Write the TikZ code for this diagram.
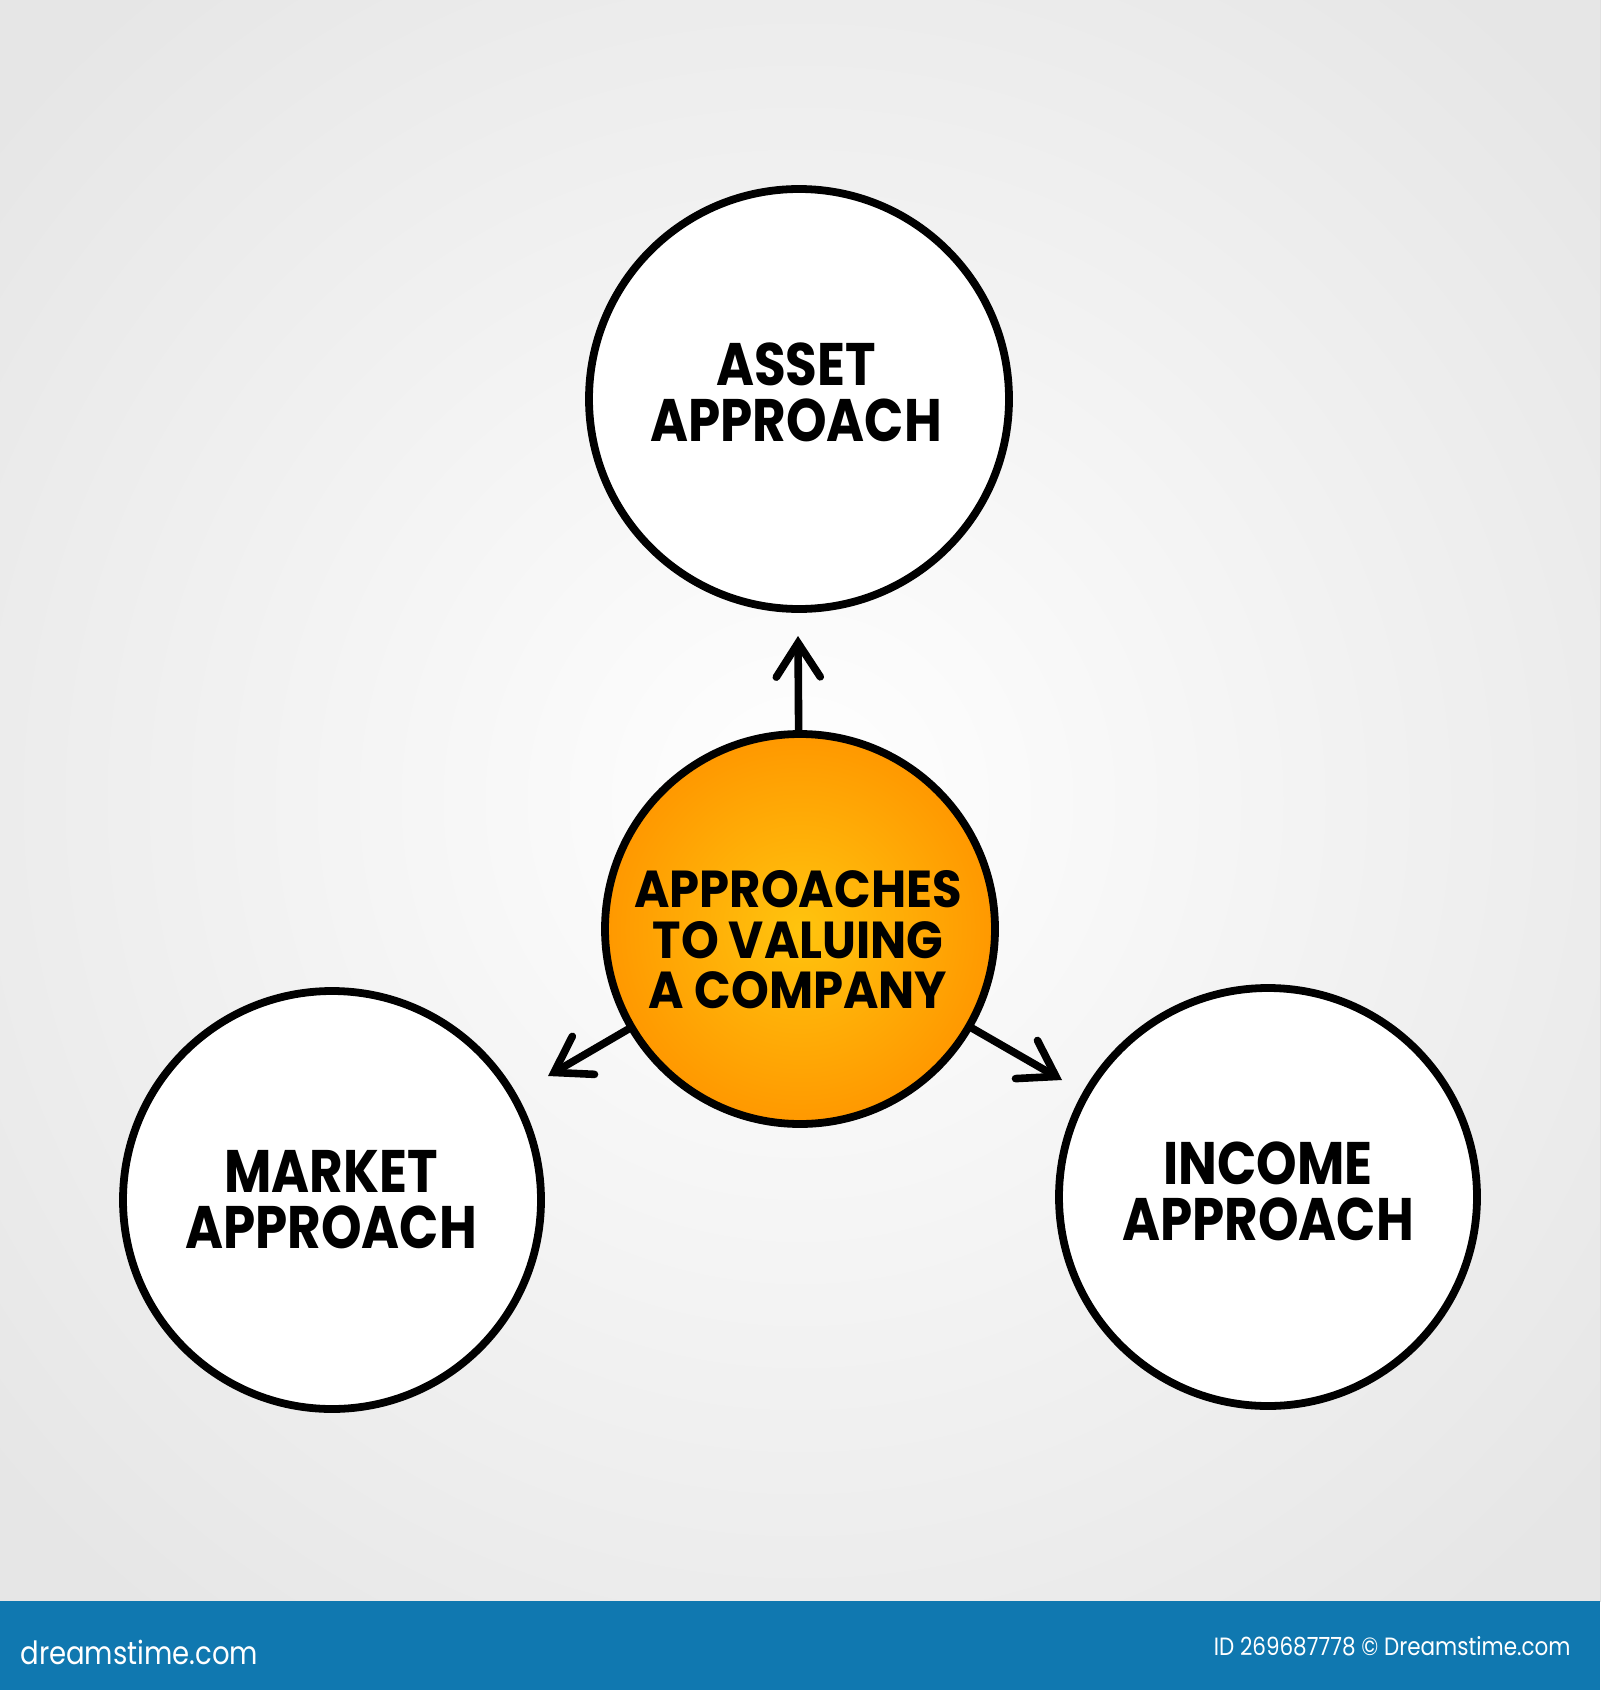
\documentclass[tikz,border=0pt]{standalone}
\usepackage{fontspec}
\setmainfont{Poppins}[FakeStretch=0.86]
\newfontfamily\hubfont{Poppins}[FakeStretch=0.925]
\usetikzlibrary{arrows.meta}
\definecolor{barblue}{RGB}{16,120,176}
\definecolor{bgedge}{RGB}{230,230,230}
\definecolor{orin}{RGB}{255,196,14}
\definecolor{orout}{RGB}{255,152,0}
\tikzset{
  bubble/.style={circle, draw=black, line width=3.9pt, fill=white, inner sep=0pt},
  hub/.style={bubble, inner color=orin, outer color=orout},
  lbl/.style={align=center, inner sep=0pt, font=\fontsize{30}{28}\selectfont\bfseries},
  hublbl/.style={align=center, inner sep=0pt, font=\hubfont\fontsize{26}{25.3}\selectfont\bfseries},
  arr/.style={line width=3.8pt, line cap=round, line join=round,
    -{Straight Barb[length=17pt, width=22pt, line cap=round]}},
  bartext/.style={text=white, inner sep=0pt}
}
\begin{document}
\begin{tikzpicture}[x=0.5pt, y=-0.5pt]
  \useasboundingbox (0,0) rectangle (1600,1690);
  % background
  \begin{scope}
    \clip (0,0) rectangle (1600,1601);
    \fill[inner color=white, outer color=bgedge] (-250,-250) rectangle (1850,1851);
  \end{scope}
  \fill[barblue] (0,1601) rectangle (1600,1690);
  % circles
  \node[bubble, minimum size=210pt] (asset) at (799,399) {};
  \node[bubble, minimum size=209pt] (market) at (332,1200) {};
  \node[bubble, minimum size=209pt] (income) at (1268,1197) {};
  \node[hub, minimum size=195pt] (hub) at (800,929) {};
  % labels
  \node[lbl] (assetT) at (796,392) {ASSET\\APPROACH};
  \node[lbl] (marketT) at (331,1200) {MARKET\\APPROACH};
  \node[lbl] (incomeT) at (1268,1191) {INCOME\\APPROACH};
  \node[hublbl] (hubT) at (798,940) {APPROACHES\\TO VALUING\\A COMPANY};
  % arrow tips
  \coordinate (tA) at (798,636);
  \coordinate (tM) at (548,1076);
  \coordinate (tI) at (1062,1080);
  \draw[arr] (hub) -- (tA);
  \draw[arr] (hub) -- (tM);
  \draw[arr] (hub) -- (tI);
  % bottom bar texts
  \node[bartext, anchor=west, font=\fontsize{16}{16}\selectfont] (logo) at (20,1652) {dreamstime.com};
  \node[bartext, anchor=east, font=\fontsize{12.5}{12}\selectfont] (id) at (1571,1646) {ID 269687778 © Dreamstime.com};
\end{tikzpicture}
\end{document}
